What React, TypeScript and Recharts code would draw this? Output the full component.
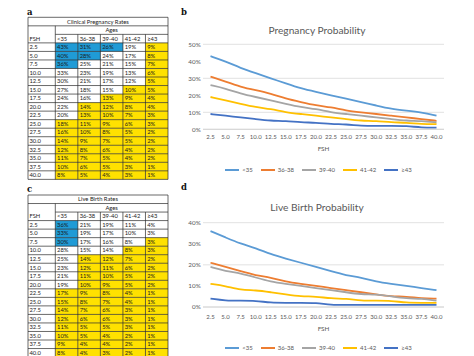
import React from 'react';
import { LineChart, Line, XAxis, YAxis, CartesianGrid, Legend } from 'recharts';

const fshLabels = ['2.5', '5.0', '7.5', '10.0', '12.5', '15.0', '17.5', '20.0', '22.5', '25.0', '27.5', '30.0', '32.5', '35.0', '37.5', '40.0'];
const ageGroups = ['<35', '36-38', '39-40', '41-42', '≥43'];
const seriesColors = ['#5B9BD5', '#ED7D31', '#A5A5A5', '#FFC000', '#4472C4'];

// Clinical pregnancy rates (%)
const pregLt35 = [43, 40, 36, 33, 30, 27, 24, 22, 20, 18, 16, 14, 12, 11, 10, 8];
const preg3638 = [31, 28, 25, 23, 21, 18, 16, 14, 13, 11, 10, 9, 8, 7, 6, 5];
const preg3940 = [26, 24, 21, 19, 17, 15, 13, 12, 10, 9, 8, 7, 6, 5, 5, 4];
const preg4142 = [19, 17, 15, 13, 12, 10, 9, 8, 7, 6, 5, 5, 4, 4, 3, 3];
const preg43 = [9, 8, 7, 6, 5, 5, 4, 4, 3, 3, 2, 2, 2, 2, 1, 1];

// Live birth rates (%)
const liveLt35 = [36, 33, 30, 28, 25, 23, 21, 19, 17, 15, 14, 12, 11, 10, 9, 8];
const live3638 = [21, 19, 17, 15, 14, 12, 11, 10, 9, 8, 7, 6, 5, 5, 4, 4];
const live3940 = [19, 17, 16, 14, 12, 11, 10, 9, 8, 7, 6, 6, 5, 4, 4, 3];
const live4142 = [11, 10, 8, 8, 7, 6, 5, 5, 4, 4, 3, 3, 3, 2, 2, 2];
const live43 = [4, 3, 3, 3, 2, 2, 2, 2, 1, 1, 1, 1, 1, 1, 1, 1];

// cell highlight groups: number of leading "high" rows and first "low" row per age column
const pregHighRows = [3, 2, 1, 0, 0];
const pregLowFrom = [9, 7, 6, 5, 0];
const liveHighRows = [3, 0, 0, 0, 0];
const liveLowFrom = [8, 4, 4, 3, 2];

const pregSeries = [pregLt35, preg3638, preg3940, preg4142, preg43];
const liveSeries = [liveLt35, live3638, live3940, live4142, live43];

const FONT = 'Lato, "Open Sans", sans-serif';
const BLUE = '#1F9BD6';
const YELLOW = '#FFE100';
const TEXT_GRAY = '#595959';

function buildRows(series: number[][]) {
  return fshLabels.map((f, i) => {
    const row: Record<string, string | number> = { fsh: f };
    ageGroups.forEach((g, j) => {
      row[g] = series[j][i] / 100;
    });
    return row;
  });
}

type TableProps = {
  x: number;
  y: number;
  title: string;
  series: number[][];
  highRows: number[];
  lowFrom: number[];
};

function RateTable({ x, y, title, series, highRows, lowFrom }: TableProps) {
  const W = 140;
  const c0 = 27.3;
  const cw = (W - c0) / 5;
  const rh = 8.53;
  const nRows = 3 + fshLabels.length;
  const H = rh * nRows;
  const fs = 5.8;
  const stroke = '#2a2a2a';
  const sw = 0.7;
  const els: React.ReactNode[] = [];
  const colX = (j: number) => x + c0 + j * cw;
  fshLabels.forEach((_, i) => {
    ageGroups.forEach((_g, j) => {
      let fill = '#ffffff';
      if (i < highRows[j]) fill = BLUE;
      else if (i >= lowFrom[j]) fill = YELLOW;
      if (fill !== '#ffffff') {
        els.push(<rect key={`bg${i}-${j}`} x={colX(j)} y={y + rh * (3 + i)} width={cw} height={rh} fill={fill} />);
      }
    });
  });
  for (let r = 0; r <= nRows; r++) {
    const yy = y + r * rh;
    if (r === 2) {
      els.push(<line key={`h${r}`} x1={x + c0} x2={x + W} y1={yy} y2={yy} stroke={stroke} strokeWidth={sw} />);
    } else {
      els.push(<line key={`h${r}`} x1={x} x2={x + W} y1={yy} y2={yy} stroke={stroke} strokeWidth={sw} />);
    }
  }
  els.push(<line key="vl" x1={x} x2={x} y1={y} y2={y + H} stroke={stroke} strokeWidth={sw} />);
  els.push(<line key="vr" x1={x + W} x2={x + W} y1={y} y2={y + H} stroke={stroke} strokeWidth={sw} />);
  els.push(<line key="v0" x1={x + c0} x2={x + c0} y1={y + rh} y2={y + H} stroke={stroke} strokeWidth={sw} />);
  for (let j = 1; j < 5; j++) {
    els.push(<line key={`v${j}`} x1={colX(j)} x2={colX(j)} y1={y + 2 * rh} y2={y + H} stroke={stroke} strokeWidth={sw} />);
  }
  const ty = (r: number) => y + r * rh + rh / 2 + 2;
  const tstyle = { fontFamily: FONT, fontSize: fs, fill: '#1a1a1a' };
  els.push(<text key="title" x={x + W / 2} y={ty(0)} textAnchor="middle" style={tstyle}>{title}</text>);
  els.push(<text key="ages" x={x + c0 + (W - c0) / 2} y={ty(1)} textAnchor="middle" style={tstyle}>Ages</text>);
  els.push(<text key="fsh" x={x + 1.5} y={ty(2)} style={tstyle}>FSH</text>);
  ageGroups.forEach((g, j) => {
    els.push(<text key={`hd${j}`} x={colX(j) + 1.8} y={ty(2)} style={tstyle}>{g}</text>);
  });
  fshLabels.forEach((f, i) => {
    els.push(<text key={`f${i}`} x={x + 1.5} y={ty(3 + i)} style={tstyle}>{f}</text>);
    ageGroups.forEach((_g, j) => {
      els.push(<text key={`t${i}-${j}`} x={colX(j) + 1.8} y={ty(3 + i)} style={tstyle}>{`${series[j][i]}%`}</text>);
    });
  });
  return <g>{els}</g>;
}

function LegendContent() {
  return (
    <div style={{ width: 304, height: 12, display: 'flex', justifyContent: 'center', alignItems: 'center', paddingRight: 7, boxSizing: 'border-box' }}>
      {ageGroups.map((g, i) => (
        <div key={g} style={{ display: 'flex', alignItems: 'center', marginRight: i < ageGroups.length - 1 ? 8 : 0 }}>
          <svg width={14} height={4} style={{ marginRight: 3 }}>
            <line x1={0} x2={14} y1={2} y2={2} stroke={seriesColors[i]} strokeWidth={2} />
          </svg>
          <span style={{ fontFamily: FONT, fontSize: 6, color: TEXT_GRAY, lineHeight: '12px' }}>{g}</span>
        </div>
      ))}
    </div>
  );
}

type ChartProps = {
  top: number;
  height: number;
  title: string;
  titleTop: number;
  data: Record<string, string | number>[];
  yMax: number;
  yTicks: number[];
  marginTop: number;
  marginBottom: number;
  xTickMargin: number;
  fshOffset: number;
};

function ProbChart({ top, height, title, titleTop, data, yMax, yTicks, marginTop, marginBottom, xTickMargin, fshOffset }: ChartProps) {
  return (
    <>
      <div style={{ position: 'absolute', left: 170, top: titleTop, width: 294, textAlign: 'center', fontFamily: FONT, fontSize: 10.2, lineHeight: '12px', color: TEXT_GRAY }}>
        {title}
      </div>
      <div style={{ position: 'absolute', left: 170, top }}>
        <LineChart width={304} height={height} data={data} margin={{ top: marginTop, right: 30, bottom: marginBottom, left: 0 }}>
          <CartesianGrid vertical={false} stroke="#d9d9d9" strokeWidth={0.8} />
          <XAxis
            dataKey="fsh"
            interval={0}
            height={34.7}
            padding={{ left: 7.5, right: 7.5 }}
            tickLine={false}
            tickSize={0}
            tickMargin={xTickMargin}
            axisLine={{ stroke: '#d0d0d0', strokeWidth: 0.8 }}
            tick={{ fontFamily: FONT, fontSize: 6, fill: TEXT_GRAY }}
            label={(props: any) => {
              const vb = props.viewBox || {};
              return (
                <text x={vb.x + vb.width / 2} y={vb.y + fshOffset} textAnchor="middle" style={{ fontFamily: FONT, fontSize: 6.3, fill: TEXT_GRAY }}>
                  FSH
                </text>
              );
            }}
          />
          <YAxis
            width={33}
            domain={[0, yMax]}
            ticks={yTicks}
            tickLine={false}
            axisLine={false}
            tickSize={0}
            tickMargin={2.3}
            tick={{ fontFamily: FONT, fontSize: 6.3, fill: TEXT_GRAY }}
            tickFormatter={(v: number) => `${Math.round(v * 100)}%`}
          />
          {ageGroups.map((g, i) => (
            <Line key={g} type="basis" dataKey={g} stroke={seriesColors[i]} strokeWidth={1.8} dot={false} isAnimationActive={false} />
          ))}
          <Legend verticalAlign="bottom" height={12} wrapperStyle={{ left: 0, width: 304 }} content={() => <LegendContent />} />
        </LineChart>
      </div>
    </>
  );
}

const labelStyle: React.CSSProperties = {
  position: 'absolute',
  fontFamily: '"DejaVu Serif", "Liberation Serif", serif',
  fontWeight: 'bold',
  fontSize: 8.5,
  lineHeight: '10px',
  color: '#111',
};

export default function App() {
  const pregData = buildRows(pregSeries);
  const liveData = buildRows(liveSeries);
  return (
    <div style={{ position: 'absolute', left: 0, top: 0, width: 474, height: 356, background: '#ffffff', overflow: 'hidden' }}>
      <svg width={175} height={356} style={{ position: 'absolute', left: 0, top: 0 }}>
        <RateTable x={28} y={17.3} title="Clinical Pregnancy Rates" series={pregSeries} highRows={pregHighRows} lowFrom={pregLowFrom} />
        <RateTable x={28} y={195} title="Live Birth Rates" series={liveSeries} highRows={liveHighRows} lowFrom={liveLowFrom} />
      </svg>
      <div style={{ ...labelStyle, left: 27, top: 7 }}>a</div>
      <div style={{ ...labelStyle, left: 27, top: 184 }}>c</div>
      <div style={{ ...labelStyle, left: 181, top: 7 }}>b</div>
      <div style={{ ...labelStyle, left: 181, top: 182 }}>d</div>
      <ProbChart
        top={0}
        height={180}
        title="Pregnancy Probability"
        titleTop={24}
        data={pregData}
        yMax={0.5}
        yTicks={[0, 0.1, 0.2, 0.3, 0.4, 0.5]}
        marginTop={44.3}
        marginBottom={4}
        xTickMargin={5.3}
        fshOffset={22}
      />
      <ProbChart
        top={180}
        height={176}
        title="Live Birth Probability"
        titleTop={200.7}
        data={liveData}
        yMax={0.4}
        yTicks={[0, 0.1, 0.2, 0.3, 0.4]}
        marginTop={42.7}
        marginBottom={2.3}
        xTickMargin={7.5}
        fshOffset={24}
      />
    </div>
  );
}
